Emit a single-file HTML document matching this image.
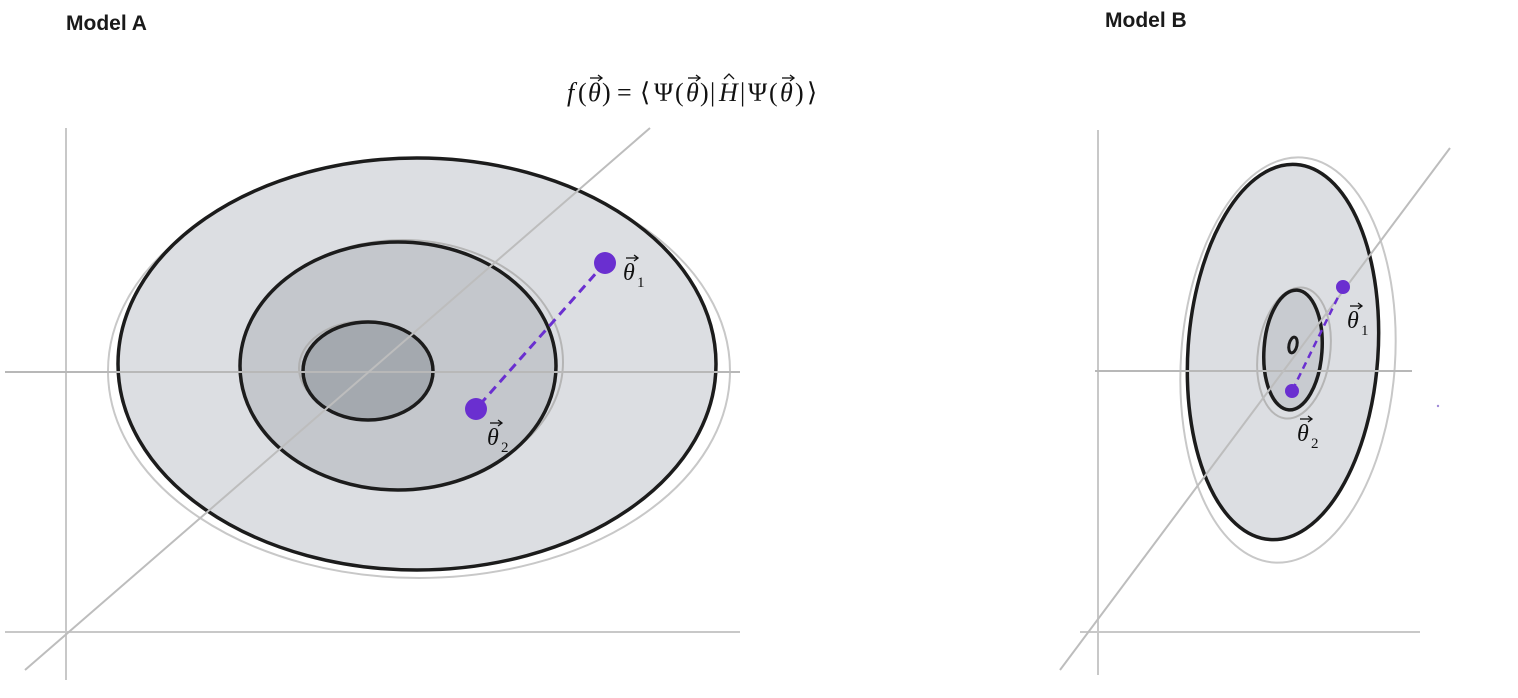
<!DOCTYPE html>
<html><head><meta charset="utf-8"><style>
html,body{margin:0;padding:0;background:#fff;width:1518px;height:698px;overflow:hidden}
svg{display:block}
.t{font-family:"Liberation Sans",sans-serif;font-weight:bold;font-size:21px;fill:#1a1a1a}
.m{font-family:"Liberation Serif",serif;font-size:24px;fill:#111}
.f{font-family:"Liberation Serif",serif;font-size:26px;fill:#111}
.s{font-family:"Liberation Serif",serif;font-size:15px;fill:#111}
</style></head><body>
<svg width="1518" height="698" viewBox="0 0 1518 698">
<defs>
<g id="arr"><line x1="0" y1="0" x2="11" y2="0" stroke="#111" stroke-width="1.3"/><path d="M8,-3 L12,0 L8,3" fill="none" stroke="#111" stroke-width="1.3"/></g>
</defs>
<text class="t" x="66" y="30">Model A</text>
<text class="t" x="1105" y="27">Model B</text>
<g class="f">
<text x="567" y="101" font-style="italic">f</text>
<text x="578" y="101">(</text>
<text x="588" y="101" font-style="italic">θ</text>
<text x="602" y="101">)</text>
<text x="617" y="101">=</text>
<text x="640" y="101">⟨</text>
<text x="654" y="101">Ψ</text>
<text x="675" y="101">(</text>
<text x="686" y="101" font-style="italic">θ</text>
<text x="700" y="101">)</text>
<text x="710" y="101">|</text>
<text x="719" y="101" font-style="italic">H</text>
<text x="740" y="101">|</text>
<text x="748" y="101">Ψ</text>
<text x="769" y="101">(</text>
<text x="780" y="101" font-style="italic">θ</text>
<text x="795" y="101">)</text>
<text x="807" y="101">⟩</text>
</g>
<path d="M724,79 L729,74 L734,79" fill="none" stroke="#111" stroke-width="1.3"/>
<use href="#arr" x="590" y="78"/>
<use href="#arr" x="688" y="78"/>
<use href="#arr" x="782" y="78"/>
<g stroke="#c8c8c8" stroke-width="2" fill="none">
<line x1="5" y1="632" x2="740" y2="632"/>
<line x1="66" y1="128" x2="66" y2="680"/>
<line x1="1098" y1="130" x2="1098" y2="675"/>
<line x1="1080" y1="632" x2="1420" y2="632"/>
</g>
<!-- Model A -->
<ellipse cx="419" cy="371" rx="311" ry="207" fill="none" stroke="#c8c8c8" stroke-width="2"/>
<ellipse cx="417" cy="364" rx="299" ry="206" fill="#dcdee2" stroke="#1c1c1c" stroke-width="3.5"/>
<ellipse cx="403" cy="362" rx="160" ry="122" fill="none" stroke="#b5b5b5" stroke-width="2"/>
<ellipse cx="398" cy="366" rx="158" ry="124" fill="#c4c7cc" stroke="#1c1c1c" stroke-width="3.5"/>
<ellipse cx="365" cy="368" rx="66" ry="47" fill="none" stroke="#b0b0b0" stroke-width="2"/>
<ellipse cx="368" cy="371" rx="65" ry="49" fill="#a4a9af" stroke="#1c1c1c" stroke-width="3.5"/>
<line x1="5" y1="372" x2="740" y2="372" stroke="#b8b8b8" stroke-width="2"/>
<line x1="25" y1="670" x2="650" y2="128" stroke="#bdbdbd" stroke-width="2"/>
<line x1="605" y1="263" x2="476" y2="409" stroke="#6a2fd0" stroke-width="3" stroke-dasharray="9,6"/>
<circle cx="605" cy="263" r="11" fill="#6a2fd0"/>
<circle cx="476" cy="409" r="11" fill="#6a2fd0"/>
<text class="m" x="623" y="280" font-style="italic">θ</text><text class="s" x="637" y="287">1</text>
<use href="#arr" x="626" y="258"/>
<text class="m" x="487" y="445" font-style="italic">θ</text><text class="s" x="501" y="452">2</text>
<use href="#arr" x="490" y="423"/>
<!-- Model B -->
<ellipse cx="1288" cy="360" rx="107" ry="203" fill="none" stroke="#c8c8c8" stroke-width="2" transform="rotate(4 1288 360)"/>
<ellipse cx="1283" cy="352" rx="95" ry="188" fill="#dcdee2" stroke="#1c1c1c" stroke-width="3.5" transform="rotate(4 1283 352)"/>
<ellipse cx="1294" cy="353" rx="36" ry="66" fill="none" stroke="#b5b5b5" stroke-width="2" transform="rotate(8 1294 353)"/>
<ellipse cx="1293" cy="350" rx="29" ry="60" fill="#c8cbd0" stroke="#1c1c1c" stroke-width="3.5" transform="rotate(4 1293 350)"/>
<ellipse cx="1293" cy="345" rx="4" ry="8" fill="none" stroke="#1c1c1c" stroke-width="3" transform="rotate(12 1293 345)"/>
<line x1="1095" y1="371" x2="1412" y2="371" stroke="#b8b8b8" stroke-width="2"/>
<line x1="1060" y1="670" x2="1450" y2="148" stroke="#bdbdbd" stroke-width="2"/>
<line x1="1343" y1="287" x2="1292" y2="391" stroke="#6a2fd0" stroke-width="2.5" stroke-dasharray="7,5"/>
<circle cx="1343" cy="287" r="7" fill="#6a2fd0"/>
<circle cx="1292" cy="391" r="7" fill="#6a2fd0"/>
<text class="m" x="1347" y="328" font-style="italic">θ</text><text class="s" x="1361" y="335">1</text>
<use href="#arr" x="1350" y="306"/>
<text class="m" x="1297" y="441" font-style="italic">θ</text><text class="s" x="1311" y="448">2</text>
<use href="#arr" x="1300" y="419"/>
<circle cx="1438" cy="406" r="1.2" fill="#a08ad8"/>
</svg>
</body></html>
